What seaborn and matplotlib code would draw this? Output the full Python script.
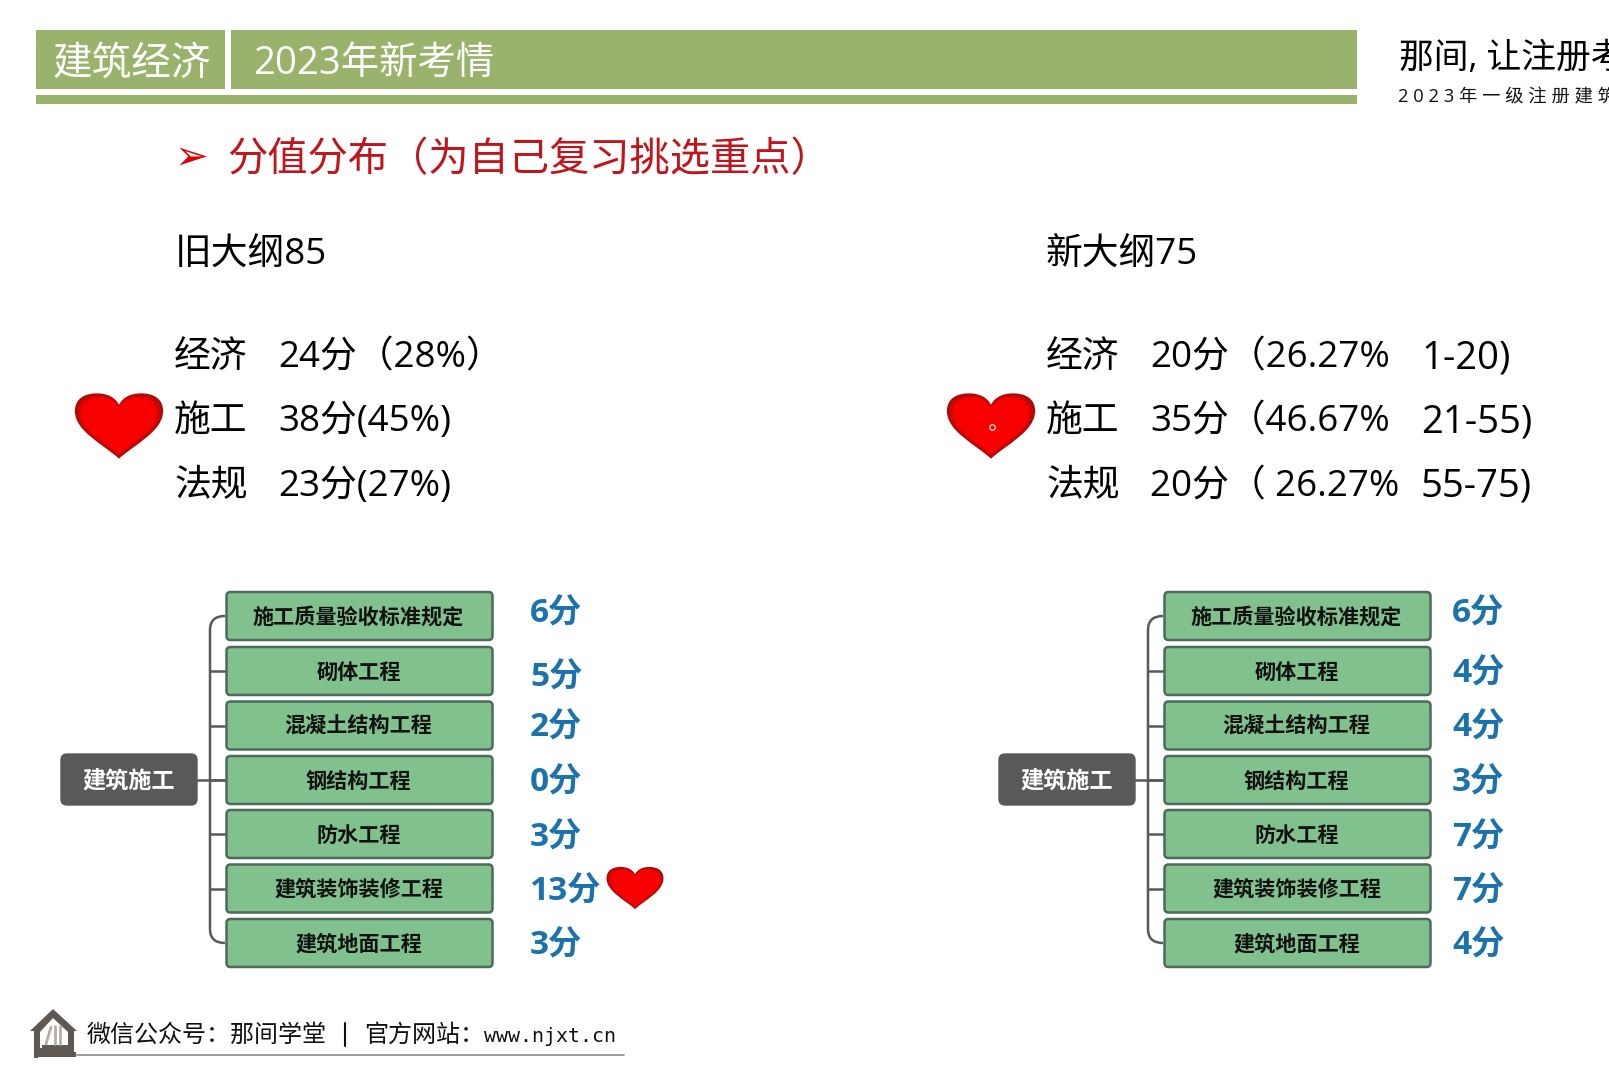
import pandas as pd
import matplotlib.pyplot as plt
import seaborn as sns
from matplotlib.patches import FancyBboxPatch, PathPatch, Rectangle, Polygon
from matplotlib.path import Path

# Chart text and values
banner_left = '建筑经济'
banner_right = '2023年新考情'
slogan = '那间, 让注册考试更简单'
slogan_sub = '2 0 2 3 年 一 级 注 册 建 筑 师 考 试'
heading = '分值分布（为自己复习挑选重点）'

old_title = '旧大纲85'
new_title = '新大纲75'
subjects = ['经济', '施工', '法规']
old_shares = ['24分（28%）', '38分(45%)', '23分(27%)']
new_shares = ['20分（26.27%', '35分（46.67%', '20分（ 26.27%']
new_ranges = ['1-20)', '21-55)', '55-75)']

root_name = '建筑施工'
topics = ['施工质量验收标准规定', '砌体工程', '混凝土结构工程', '钢结构工程',
          '防水工程', '建筑装饰装修工程', '建筑地面工程']
old_scores = [6, 5, 2, 0, 3, 13, 3]
new_scores = [6, 4, 4, 3, 7, 7, 4]

footer_left = '微信公众号：那间学堂'
footer_right = '官方网站：'
footer_url = 'www.njxt.cn'

sns.set_theme(style='white')
plt.rcParams['font.family'] = ['Open Sans', 'Noto Sans CJK SC', 'DejaVu Sans']

GREEN = '#9ab36c'
RED = '#c0151b'
BLUE = '#1b72ad'
BOX = '#80c18e'
BOX_EDGE = '#4c6b58'
GREY = '#595959'

fig = plt.figure(figsize=(16.09, 10.8), dpi=100)
ax = fig.add_axes([0, 0, 1, 1])
ax.set_xlim(0, 1609)
ax.set_ylim(1080, 0)
ax.axis('off')

# Header bands
ax.add_patch(Rectangle((36, 30), 189, 59, color=GREEN, lw=0))
ax.add_patch(Rectangle((231, 30), 1126, 59, color=GREEN, lw=0))
ax.add_patch(Rectangle((36, 95), 1321, 9, color=GREEN, lw=0))
ax.text(53, 64, banner_left, color='white', fontsize=28.5, va='center')
ax.text(253, 64, banner_right, color='white', fontsize=27.6, va='center')
ax.text(1399, 59, slogan, color='black', fontsize=25, va='center', clip_on=False)
ax.text(1398, 98, slogan_sub, color='#111111', fontsize=13.2, va='center')

# Heading
ax.text(175, 158, '➢', color='#e00000', fontsize=29, va='center', family='DejaVu Sans')
ax.text(227, 161, heading, color=RED, fontsize=29, va='center')

# Score tables
ax.text(175, 255, old_title, color='black', fontsize=26.5, va='center')
ax.text(1045, 255, new_title, color='black', fontsize=26.5, va='center')
row_y = [358, 422, 487]
for y, subject, old, new, rng in zip(row_y, subjects, old_shares, new_shares, new_ranges):
    ax.text(174, y, subject, color='black', fontsize=26.5, va='center')
    ax.text(278, y, old, color='black', fontsize=26.5, va='center')
    ax.text(1046, y, subject, color='black', fontsize=26.5, va='center')
    ax.text(1150, y, new, color='black', fontsize=26.5, va='center')
    ax.text(1421, y, rng, color='black', fontsize=27.5, va='center')


def draw_tree(dx, scores):
    centers = [616, 671, 725.5, 780, 834, 888.5, 943]
    spine = 210 + dx
    # Rounded connector lines from the spine to each box
    verts = [(spine + 15, centers[0]), (spine, centers[0]), (spine, centers[0] + 14),
             (spine, centers[-1] - 14), (spine, centers[-1]), (spine + 15, centers[-1])]
    codes = [Path.MOVETO, Path.CURVE3, Path.CURVE3, Path.LINETO, Path.CURVE3, Path.CURVE3]
    ax.add_patch(PathPatch(Path(verts, codes), fc='none', ec=GREY, lw=1.8))
    for y in centers[1:-1]:
        ax.plot([spine, spine + 15], [y, y], color=GREY, lw=1.8)
    ax.plot([197 + dx, spine + 15], [780, 780], color=GREY, lw=1.8)

    ax.add_patch(FancyBboxPatch((64 + dx, 757), 130, 45, boxstyle='round,pad=3,rounding_size=6',
                                fc=GREY, ec=GREY, lw=1))
    ax.text(128.5 + dx, 782, root_name, color='white', fontsize=16.7, fontweight='bold',
            ha='center', va='center')

    score_y = [614, 678 if scores[1] == 5 else 674, 728, 783, 838, 892, 946]
    for y, sy, topic, score in zip(centers, score_y, topics, scores):
        ax.add_patch(FancyBboxPatch((229.5 + dx, y - 21), 260, 42, boxstyle='round,pad=3,rounding_size=4',
                                    fc=BOX, ec=BOX_EDGE, lw=1.8, zorder=3))
        ax.text(358.5 + dx, y + 2, topic, color='#111111', fontsize=15.2, fontweight='bold',
                ha='center', va='center', zorder=4)
        ax.text(530 + dx - (16 if dx else 0), sy, f'{score}分', color=BLUE, fontsize=24,
                fontweight='bold', va='center')


draw_tree(0, old_scores)
draw_tree(938, new_scores)

# Hearts
heart = Path(
    [(0, -0.74), (-0.35, -0.42), (-1, -0.12), (-1, 0.34), (-1, 0.62), (-0.78, 0.74), (-0.5, 0.74),
     (-0.25, 0.74), (-0.08, 0.64), (0, 0.48), (0.08, 0.64), (0.25, 0.74), (0.5, 0.74),
     (0.78, 0.74), (1, 0.62), (1, 0.34), (1, -0.12), (0.35, -0.42), (0, -0.74), (0, -0.74)],
    [Path.MOVETO] + [Path.CURVE4] * 18 + [Path.CLOSEPOLY])
hearts = pd.DataFrame({'x': [119, 991, 635], 'y': [426, 426, 888], 'size': [63.5, 63.5, 41]})
for scale, colour, z in [(1.0, '#a80a0a', 5), (0.95, '#cc0505', 6), (0.87, '#f80000', 7)]:
    sns.scatterplot(data=hearts, x='x', y='y', ax=ax, marker=heart, s=(hearts['size'] * scale) ** 2,
                    color=colour, linewidth=0, zorder=z, legend=False)
ax.plot([992], [427], marker='o', ms=4, mfc='#f60000', mec='white', mew=0.8, zorder=8)
ax.set_xlim(0, 1609)
ax.set_ylim(1080, 0)
ax.axis('off')

# Footer logo
DARK = '#5e5853'
ax.add_patch(Polygon([(53, 1009), (77, 1031), (74, 1031), (74, 1052), (38, 1052), (38, 1058), (34, 1058),
                      (34, 1031), (30, 1031)], fc=DARK, ec='none'))
ax.add_patch(Polygon([(53, 1018), (68, 1032), (68, 1048), (40, 1048), (40, 1032)], fc='white', ec='none'))
ax.add_patch(Rectangle((42, 1045), 26, 4, fc=DARK, ec='none'))
ax.plot([46, 51], [1044, 1027], color='#b5afa9', lw=2)
ax.plot([55, 55], [1044, 1026], color='#b5afa9', lw=2)
ax.plot([60, 60], [1044, 1026], color='#b5afa9', lw=2)
ax.add_patch(Rectangle((34, 1052), 42, 5, fc=DARK, ec='none'))
ax.plot([76, 624], [1054.5, 1054.5], color='#8a8a8a', lw=1.2)

ax.text(87, 1036, footer_left, color='#111111', fontsize=17.3, va='center')
ax.plot([345, 345], [1023, 1046], color='#111111', lw=1.5)
ax.text(364, 1036, footer_right, color='#111111', fontsize=17.3, va='center')
ax.text(484, 1036, footer_url, color='#111111', fontsize=14.4, va='center', family='DejaVu Sans Mono')

plt.savefig('out.png', dpi=100)
plt.close()
